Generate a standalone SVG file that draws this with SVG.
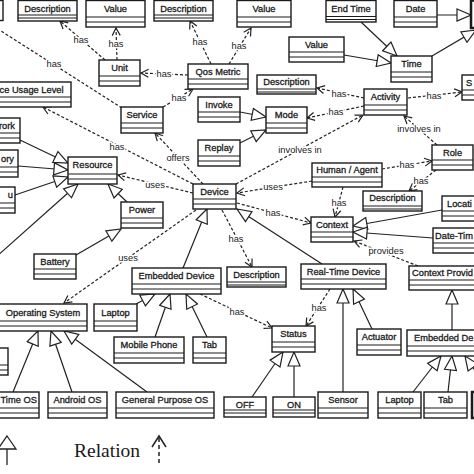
<svg xmlns="http://www.w3.org/2000/svg" width="474" height="474" viewBox="0 0 474 474">
<style>
.bx rect{fill:#fff;stroke:#1a1a1a;stroke-width:1.4}
.bx path{fill:none;stroke:#1a1a1a;stroke-width:1.1}
.t{font-family:"Liberation Sans",Arial,sans-serif;font-size:9.3px;fill:#1a1a1a;text-anchor:middle;stroke:#1a1a1a;stroke-width:0.3}
.ts{text-anchor:start}
.te{text-anchor:end}
.lbl{font-family:"Liberation Sans",Arial,sans-serif;font-size:9.3px;fill:#1a1a1a;text-anchor:middle;stroke:#fff;stroke-width:3;paint-order:stroke;stroke-linejoin:round}
.dash{fill:none;stroke:#222;stroke-width:1.2;stroke-dasharray:3 2;marker-end:url(#open)}
.dl{fill:none;stroke:#222;stroke-width:1.2;stroke-dasharray:3 2}
.gen{fill:none;stroke:#222;stroke-width:1.2;marker-end:url(#tri)}
.dk rect{stroke-width:2.5}
</style>
<defs>
<marker id="tri" markerUnits="userSpaceOnUse" markerWidth="16" markerHeight="14" viewBox="0 0 16 14" refX="15" refY="7" orient="auto">
<path d="M1,1 L15,7 L1,13 Z" fill="#fff" stroke="#222" stroke-width="1.2" stroke-dasharray="none"/>
</marker>
<marker id="open" markerUnits="userSpaceOnUse" markerWidth="10" markerHeight="10" viewBox="0 0 10 10" refX="8.5" refY="5" orient="auto">
<path d="M1,1 L8.5,5 L1,9" fill="none" stroke="#222" stroke-width="1.2" stroke-dasharray="none"/>
</marker>
</defs>

<g id="connectors">
<path class="dash" d="M105,60 L60,21"/>
<path class="dash" d="M117,60 L116,28"/>
<path class="dash" d="M211,64 L190,21"/>
<path class="dash" d="M229,64 L251,28"/>
<path class="dash" d="M188,75 L141,73"/>
<path class="dash" d="M163,107 L193,89"/>
<path class="dl" d="M122,108 L-10,24"/>
<path class="dash" d="M193,184 L43,107"/>
<path class="dash" d="M203,184 L155,133"/>
<path class="dash" d="M193,193 L118,175"/>
<path class="dash" d="M236,184 L363,115"/>
<path class="dash" d="M364,106 L307,118"/>
<path class="dash" d="M364,98 L317,88"/>
<path class="dash" d="M408,98 L462,92"/>
<path class="dash" d="M437,145 L404,116"/>
<path class="dash" d="M382,169 L432,161"/>
<path class="dash" d="M436,170 L409,191"/>
<path class="dash" d="M312,181 L237,193"/>
<path class="dash" d="M343,187 L335,217"/>
<path class="dash" d="M237,203 L311,223"/>
<path class="dash" d="M418,266 L354,241"/>
<path class="dash" d="M222,210 L252,267"/>
<path class="dash" d="M196,210 L64,303"/>
<path class="dash" d="M200,294 L272,328"/>
<path class="dash" d="M330,289 L306,326"/>
<path class="gen" d="M20,140 L68,163"/>
<path class="gen" d="M18,166 L68,170"/>
<path class="gen" d="M15,195 L68,177"/>
<path class="gen" d="M-5,258 L78,184"/>
<path class="gen" d="M127,202 L108,184"/>
<path class="gen" d="M76,255 L121,229"/>
<path class="gen" d="M183,268 L207,209"/>
<path class="gen" d="M322,264 L237,209"/>
<path class="gen" d="M136,304 L155,294"/>
<path class="gen" d="M155,337 L170,294"/>
<path class="gen" d="M207,337 L186,294"/>
<path class="gen" d="M13,392 L38,331"/>
<path class="gen" d="M72,392 L51,331"/>
<path class="gen" d="M147,392 L64,331"/>
<path class="gen" d="M252,397 L283,352"/>
<path class="gen" d="M294,397 L294,352"/>
<path class="gen" d="M343,392 L343,289"/>
<path class="gen" d="M372,329 L353,289"/>
<path class="gen" d="M452,330 L452,290"/>
<path class="gen" d="M413,392 L441,356"/>
<path class="gen" d="M448,392 L452,356"/>
<path class="gen" d="M490,392 L465,356"/>
<path class="gen" d="M442,210 L353,226"/>
<path class="gen" d="M433,238 L353,232"/>
<path class="gen" d="M240,112 L266,117"/>
<path class="gen" d="M240,143 L266,130"/>
<path class="gen" d="M361,22 L397,56"/>
<path class="gen" d="M344,55 L391,63"/>
<path class="gen" d="M437,15 L471,15"/>
<path class="gen" d="M432,56 L476,30"/>
<text class="lbl" x="81" y="43.3">has</text>
<text class="lbl" x="116" y="47.3">has</text>
<text class="lbl" x="200" y="45.3">has</text>
<text class="lbl" x="239" y="49.3">has</text>
<text class="lbl" x="164" y="77.3">has</text>
<text class="lbl" x="179" y="101.3">has</text>
<text class="lbl" x="54" y="67.3">has</text>
<text class="lbl" x="117" y="150.3">has</text>
<text class="lbl" x="178" y="161.3">offers</text>
<text class="lbl" x="155" y="188.3">uses</text>
<text class="lbl" x="300" y="153.3">involves in</text>
<text class="lbl" x="336" y="115.3">has</text>
<text class="lbl" x="339" y="97.3">has</text>
<text class="lbl" x="434" y="99.3">has</text>
<text class="lbl" x="419" y="132.3">involves in</text>
<text class="lbl" x="407" y="168.3">has</text>
<text class="lbl" x="421" y="184.3">has</text>
<text class="lbl" x="273" y="190.3">uses</text>
<text class="lbl" x="339" y="206.3">has</text>
<text class="lbl" x="273" y="216.3">has</text>
<text class="lbl" x="386" y="254.3">provides</text>
<text class="lbl" x="236" y="242.3">has</text>
<text class="lbl" x="128" y="261.3">uses</text>
<text class="lbl" x="237" y="315.3">has</text>
<text class="lbl" x="319" y="311.3">has</text>
</g>

<g id="n-desc1" class="bx"><rect x="18" y="0.5" width="59" height="20.5"/><path d="M18,15H77M18,18H77"/><text class="t" x="47.5" y="11.5">Description</text></g>
<g id="n-value1" class="bx"><rect x="86" y="0.5" width="59" height="26.5"/><path d="M86,17H145M86,22H145"/><text class="t" x="115.5" y="12">Value</text></g>
<g id="n-desc2" class="bx"><rect x="154" y="0.5" width="59" height="20.5"/><path d="M154,15H213M154,18H213"/><text class="t" x="183.5" y="11.5">Description</text></g>
<g id="n-value2" class="bx"><rect x="237" y="0.5" width="54" height="26.5"/><path d="M237,17H291M237,22H291"/><text class="t" x="264" y="12">Value</text></g>
<g id="n-endtime" class="bx"><rect x="326" y="0.5" width="50" height="21.5"/><path d="M326,16.5H376M326,19.5H376"/><text class="t" x="351" y="12">End Time</text></g>
<g id="n-date" class="bx"><rect x="394" y="0.5" width="43" height="26.5"/><path d="M394,17H437M394,22H437"/><text class="t" x="415.5" y="12">Date</text></g>
<g id="n-topright" class="bx dk"><rect x="471" y="0.5" width="20" height="27.5"/></g>
<g id="n-topleft" class="bx"><rect x="-20" y="0.5" width="23" height="20"/></g>
<g id="n-unit" class="bx"><rect x="99" y="60" width="41" height="26"/><path d="M99,76H140M99,81H140"/><text class="t" x="119.5" y="71.3">Unit</text></g>
<g id="n-qos" class="bx"><rect x="188" y="64" width="60" height="25"/><path d="M188,79H248M188,84H248"/><text class="t" x="218" y="74.8">Qos Metric</text></g>
<g id="n-value3" class="bx"><rect x="289" y="37" width="55" height="25"/><path d="M289,52H344M289,57H344"/><text class="t" x="316.5" y="47.8">Value</text></g>
<g id="n-time" class="bx"><rect x="391" y="56" width="41" height="26"/><path d="M391,72H432M391,77H432"/><text class="t" x="411.5" y="67.3">Time</text></g>
<g id="n-desc3" class="bx"><rect x="257" y="75" width="59" height="19"/><path d="M257,89H316M257,92H316"/><text class="t" x="286.5" y="85.3">Description</text></g>
<g id="n-activity" class="bx"><rect x="364" y="89" width="43" height="26"/><path d="M364,105H407M364,110H407"/><text class="t" x="385.5" y="100.3">Activity</text></g>
<g id="n-s" class="bx"><rect x="462" y="75" width="20" height="25"/><path d="M462,90H482M462,95H482"/><text class="t ts" x="466" y="85.8">S</text></g>
<g id="n-rul" class="bx"><rect x="-30" y="82" width="101" height="25"/><path d="M-30,97H71M-30,102H71"/><text class="t ts" x="-0.5" y="92.8">ce Usage Level</text></g>
<g id="n-service" class="bx"><rect x="121" y="107" width="42" height="26"/><path d="M121,123H163M121,128H163"/><text class="t" x="142" y="118.3">Service</text></g>
<g id="n-invoke" class="bx"><rect x="198" y="97" width="42" height="25"/><path d="M198,112H240M198,117H240"/><text class="t" x="219" y="107.8">Invoke</text></g>
<g id="n-mode" class="bx"><rect x="266" y="107" width="41" height="26"/><path d="M266,123H307M266,128H307"/><text class="t" x="286.5" y="118.3">Mode</text></g>
<g id="n-replay" class="bx"><rect x="198" y="140" width="42" height="26"/><path d="M198,156H240M198,161H240"/><text class="t" x="219" y="151.3">Replay</text></g>
<g id="n-role" class="bx"><rect x="432" y="145" width="41" height="25"/><path d="M432,160H473M432,165H473"/><text class="t" x="452.5" y="155.8">Role</text></g>
<g id="n-network" class="bx"><rect x="-30" y="118" width="50" height="25"/><path d="M-30,133H20M-30,138H20"/><text class="t te" x="15" y="128.8">rork</text></g>
<g id="n-memory" class="bx"><rect x="-30" y="150" width="48" height="27"/><path d="M-30,167H18M-30,172H18"/><text class="t te" x="14" y="161.8">ory</text></g>
<g id="n-cpu" class="bx"><rect x="-30" y="187" width="45" height="26"/><path d="M-30,203H15M-30,208H15"/><text class="t te" x="13" y="198.3">u</text></g>
<g id="n-resource" class="bx"><rect x="68" y="157" width="49" height="27"/><path d="M68,174H117M68,179H117"/><text class="t" x="92.5" y="168.3">Resource</text></g>
<g id="n-device" class="bx"><rect x="193" y="184" width="43" height="25"/><path d="M193,199H236M193,204H236"/><text class="t" x="214.5" y="194.8">Device</text></g>
<g id="n-human" class="bx"><rect x="312" y="163" width="70" height="24"/><path d="M312,177H382M312,182H382"/><text class="t" x="347" y="173.3">Human / Agent</text></g>
<g id="n-desc4" class="bx"><rect x="363" y="191" width="59" height="20"/><path d="M363,206H422M363,209H422"/><text class="t" x="392.5" y="201.3">Description</text></g>
<g id="n-location" class="bx"><rect x="442" y="196" width="40" height="25"/><path d="M442,211H482M442,216H482"/><text class="t ts" x="447" y="206.8">Locati</text></g>
<g id="n-power" class="bx"><rect x="121" y="202" width="42" height="26"/><path d="M121,218H163M121,223H163"/><text class="t" x="142" y="213.3">Power</text></g>
<g id="n-context" class="bx"><rect x="311" y="217" width="42" height="25"/><path d="M311,232H353M311,237H353"/><text class="t" x="332" y="227.8">Context</text></g>
<g id="n-datetime" class="bx"><rect x="433" y="228" width="50" height="25"/><path d="M433,243H483M433,248H483"/><text class="t ts" x="435" y="238.8">Date-Tim</text></g>
<g id="n-battery" class="bx"><rect x="34" y="254" width="42" height="25"/><path d="M34,269H76M34,274H76"/><text class="t" x="55" y="264.8">Battery</text></g>
<g id="n-embdev" class="bx"><rect x="132" y="268" width="89" height="26"/><path d="M132,284H221M132,289H221"/><text class="t" x="176.5" y="279.3">Embedded Device</text></g>
<g id="n-desc5" class="bx"><rect x="227" y="267" width="59" height="20"/><path d="M227,282H286M227,285H286"/><text class="t" x="256.5" y="277.8">Description</text></g>
<g id="n-rtd" class="bx"><rect x="301" y="264" width="85" height="25"/><path d="M301,279H386M301,284H386"/><text class="t" x="343.5" y="274.8">Real-Time Device</text></g>
<g id="n-cp" class="bx"><rect x="409" y="266" width="75" height="24"/><path d="M409,280H484M409,285H484"/><text class="t ts" x="412" y="276.3">Context Provid</text></g>
<g id="n-os" class="bx"><rect x="-1" y="304" width="88" height="27"/><path d="M-1,321H87M-1,326H87"/><text class="t" x="43" y="315.8">Operating System</text></g>
<g id="n-laptop1" class="bx"><rect x="94" y="304" width="43" height="27"/><path d="M94,321H137M94,326H137"/><text class="t" x="115.5" y="315.8">Laptop</text></g>
<g id="n-mobile" class="bx"><rect x="114" y="337" width="70" height="26"/><path d="M114,353H184M114,358H184"/><text class="t" x="149" y="348.3">Mobile Phone</text></g>
<g id="n-tab1" class="bx"><rect x="193" y="337" width="33" height="26"/><path d="M193,353H226M193,358H226"/><text class="t" x="209.5" y="348.3">Tab</text></g>
<g id="n-leftmid" class="bx"><rect x="-20" y="348" width="28" height="27"/><path d="M-20,365H8M-20,370H8"/></g>
<g id="n-status" class="bx"><rect x="272" y="326" width="43" height="26"/><path d="M272,342H315M272,347H315"/><text class="t" x="293.5" y="337.3">Status</text></g>
<g id="n-actuator" class="bx"><rect x="357" y="329" width="44" height="26"/><path d="M357,345H401M357,350H401"/><text class="t" x="379" y="340.3">Actuator</text></g>
<g id="n-embde" class="bx"><rect x="407" y="330" width="75" height="26"/><path d="M407,346H482M407,351H482"/><text class="t ts" x="414" y="341.3">Embedded De</text></g>
<g id="n-rtos" class="bx"><rect x="-30" y="392" width="69" height="26"/><path d="M-30,408H39M-30,413H39"/><text class="t ts" x="0.5" y="403.3">Time OS</text></g>
<g id="n-android" class="bx"><rect x="48" y="392" width="59" height="26"/><path d="M48,408H107M48,413H107"/><text class="t" x="77.5" y="403.3">Android OS</text></g>
<g id="n-gpos" class="bx"><rect x="116" y="392" width="98" height="26"/><path d="M116,408H214M116,413H214"/><text class="t" x="165" y="403.3">General Purpose OS</text></g>
<g id="n-off" class="bx"><rect x="224" y="397" width="42" height="20"/><path d="M224,410H266M224,413H266"/><text class="t" x="245" y="407.8">OFF</text></g>
<g id="n-on" class="bx"><rect x="273" y="397" width="42" height="20"/><path d="M273,410H315M273,413H315"/><text class="t" x="294" y="407.8">ON</text></g>
<g id="n-sensor" class="bx"><rect x="318" y="392" width="50" height="26"/><path d="M318,408H368M318,413H368"/><text class="t" x="343" y="403.3">Sensor</text></g>
<g id="n-laptop2" class="bx"><rect x="378" y="392" width="43" height="26"/><path d="M378,408H421M378,413H421"/><text class="t" x="399.5" y="403.3">Laptop</text></g>
<g id="n-tab2" class="bx"><rect x="424" y="392" width="43" height="26"/><path d="M424,408H467M424,413H467"/><text class="t" x="445.5" y="403.3">Tab</text></g>
<g id="n-bottomright" class="bx dk"><rect x="472" y="392" width="10" height="26"/></g>

<g id="legend">
<path d="M7,449 L7,465" fill="none" stroke="#222" stroke-width="1.3"/>
<path d="M7,436 L16,449 L-2,449 Z" fill="#fff" stroke="#222" stroke-width="1.3"/>
<text x="74" y="457" font-family="'Liberation Serif','Times New Roman',serif" font-size="19.5" fill="#1a1a1a">Relation</text>
<path d="M159,438 L159,465" fill="none" stroke="#222" stroke-width="1.5" stroke-dasharray="4 3"/>
<path d="M152,447 L159,436 L166,447" fill="none" stroke="#222" stroke-width="1.5"/>
</g>
</svg>
